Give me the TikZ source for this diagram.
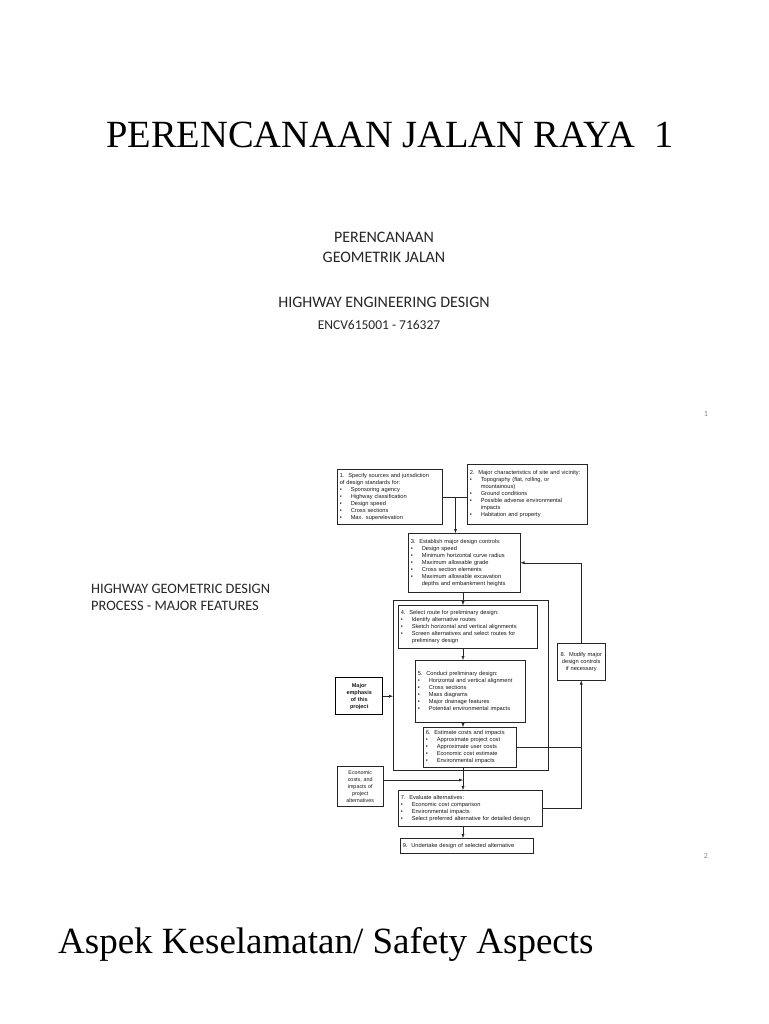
\documentclass[tikz,border=0pt]{standalone}
\usepackage{fontspec}
\setmainfont{Liberation Serif}
\newfontfamily\slideSans{Carlito}
\newfontfamily\chartSans{Liberation Sans}
\usetikzlibrary{arrows.meta, positioning}
\newcommand{\bpt}{\makebox[11pt][l]{\textbullet}}
\newcommand{\bind}{\hspace*{11pt}}
\tikzset{%
  >={Latex[width=3pt,length=4pt]},
  % Specifications for style of nodes:
    base/.style = {rectangle, draw=black!85, line width=0.5pt, anchor=north west, inner sep=2.5pt,
                   text=black!90, font=\chartSans\fontsize{5.7}{7}\selectfont},
    stepBox/.style = {base, align=left},
    noteBox/.style = {base, align=center},
    emphBox/.style = {base, align=center, line width=1.4pt, draw=black,
                      font=\chartSans\bfseries\fontsize{5.5}{7}\selectfont},
    frameBox/.style = {base, inner sep=0pt},
    slideHead/.style = {anchor=base, inner sep=0pt, text=black, font=\fontsize{38.5}{46}\selectfont},
    slideLine/.style = {anchor=base, inner sep=0pt, text=black!85, font=\slideSans\fontsize{16}{19}\selectfont},
    pageNum/.style = {anchor=base, inner sep=0pt, text=black!45, font=\slideSans\fontsize{8}{10}\selectfont},
}

\begin{document}
\begin{tikzpicture}[x=1pt, y=-1pt]
  \fill[white] (0,0) rectangle (768,1024);
  \useasboundingbox (0,0) rectangle (768,1024);

  % Slide texts
  \node (titleText)  [slideHead] at (390,148) {PERENCANAAN JALAN RAYA\ \ 1};
  \node (courseA)    [slideLine] at (384,243) {PERENCANAAN};
  \node (courseB)    [slideLine] at (384,262) {GEOMETRIK JALAN};
  \node (courseC)    [slideLine] at (384,307) {HIGHWAY ENGINEERING DESIGN};
  \node (courseCode) [slideLine, font=\slideSans\fontsize{13.5}{16}\selectfont] at (379,329)
                                                   {ENCV615001 - 716327};
  \node (pageOne)    [pageNum] at (706,416) {1};
  \node (processA)   [slideLine, anchor=base west, font=\slideSans\fontsize{14.4}{17}\selectfont]
                                                   at (91,593) {HIGHWAY GEOMETRIC DESIGN};
  \node (processB)   [slideLine, anchor=base west, font=\slideSans\fontsize{14.4}{17}\selectfont]
                                                   at (91,610) {PROCESS - MAJOR FEATURES};
  \node (pageTwo)    [pageNum] at (706,858) {2};
  \node (safetyText) [slideHead, anchor=base west, font=\fontsize{37}{44}\selectfont]
                                                   at (58,953) {Aspek Keselamatan/ Safety Aspects};

  % Flow chart boxes
  \node (studyFrame) [frameBox, minimum width=155pt, minimum height=170pt] at (393,600) {};
  \node (specBox)    [stepBox, text width=100pt, minimum height=55pt] at (337,469)
   {1.\ \ Specify sources and jurisdiction\\ of design standards for:\\
    \bpt Sponsoring agency\\ \bpt Highway classification\\ \bpt Design speed\\
    \bpt Cross sections\\ \bpt Max. superelevation};
  \node (siteBox)    [stepBox, text width=115pt, minimum height=60pt] at (467,464)
   {2.\ \ Major characteristics of site and vicinity:\\
    \bpt Topography (flat, rolling, or\\ \bind mountainous)\\ \bpt Ground conditions\\
    \bpt Possible adverse environmental\\ \bind impacts\\ \bpt Habitation and property};
  \node (controlBox) [stepBox, text width=107pt, minimum height=59pt] at (408,533)
   {3.\ \ Establish major design controls:\\
    \bpt Design speed\\ \bpt Minimum horizontal curve radius\\ \bpt Maximum allowable grade\\
    \bpt Cross section elements\\ \bpt Maximum allowable excavation\\
    \bind depths and embankment heights};
  \node (routeBox)   [stepBox, text width=134pt, minimum height=43pt] at (398,605)
   {4.\ \ Select route for preliminary design:\\
    \bpt Identify alternative routes\\ \bpt Sketch horizontal and vertical alignments\\
    \bpt Screen alternatives and select routes for\\ \bind preliminary design};
  \node (prelimBox)  [stepBox, text width=105pt, minimum height=62pt] at (415,660)
   {5.\ \ Conduct preliminary design:\\
    \bpt Horizontal and vertical alignment\\ \bpt Cross sections\\ \bpt Mass diagrams\\
    \bpt Major drainage features\\ \bpt Potential environmental impacts};
  \node (costBox)    [stepBox, text width=88pt, minimum height=40pt] at (423,727)
   {6.\ \ Estimate costs and impacts\\
    \bpt Approximate project cost\\ \bpt Approximate user costs\\
    \bpt Economic cost estimate\\ \bpt Environmental impacts};
  \node (modifyBox)  [noteBox, text width=43pt, minimum height=37pt] at (557,643)
   {8.\ \ Modify major\\ design controls\\ if necessary};
  \node (majorBox)   [emphBox, text width=42pt, minimum height=37pt] at (335,677)
   {Major\\ emphasis\\ of this\\ project};
  \node (econBox)    [noteBox, text width=41pt, minimum height=40pt, font=\chartSans\fontsize{5.4}{7}\selectfont]
                                                   at (337,766)
   {Economic\\ costs, and\\ impacts of\\ project\\ alternatives};
  \node (evalBox)    [stepBox, text width=139pt, minimum height=36pt] at (398,790)
   {7.\ \ Evaluate alternatives:\\
    \bpt Economic cost comparison\\ \bpt Environmental impacts\\
    \bpt Select preferred alternative for detailed design};
  \node (designBox)  [stepBox, text width=128pt, minimum height=15pt] at (400,838)
   {9.\ \ Undertake design of selected alternative};

  \coordinate[right=13pt of specBox.east] (auxNode1);
  \coordinate (spine) at (463,0);
  \coordinate (auxNode2) at (463,780);

  % Specification of lines between nodes
  \draw[-, draw=black!85]  (specBox.east) -- (specBox.east -| siteBox.west);
  \draw[->, draw=black!85] (auxNode1) -- (auxNode1 |- controlBox.north);
  \draw[->, draw=black!85] (controlBox.south -| spine) -- (routeBox.north -| spine);
  \draw[->, draw=black!85] (routeBox.south -| spine) -- (prelimBox.north -| spine);
  \draw[->, draw=black!85] (prelimBox.south -| spine) -- (costBox.north -| spine);
  \draw[->, draw=black!85] (costBox.south -| spine) -- (evalBox.north -| spine);
  \draw[->, draw=black!85] (auxNode2 -| econBox.east) -- (auxNode2);
  \draw[->, draw=black!85] (evalBox.south -| spine) -- (designBox.north -| spine);
  \draw[->, draw=black!85] (majorBox.east) -- (majorBox.east -| studyFrame.west);
  \draw[-, draw=black!85]  (costBox.east) -- (costBox.east -| modifyBox.south);
  \draw[->, draw=black!85] (evalBox.east) -| (modifyBox.south);
  \draw[->, draw=black!85] (modifyBox.north) |- (controlBox.east);
\end{tikzpicture}
\end{document}
